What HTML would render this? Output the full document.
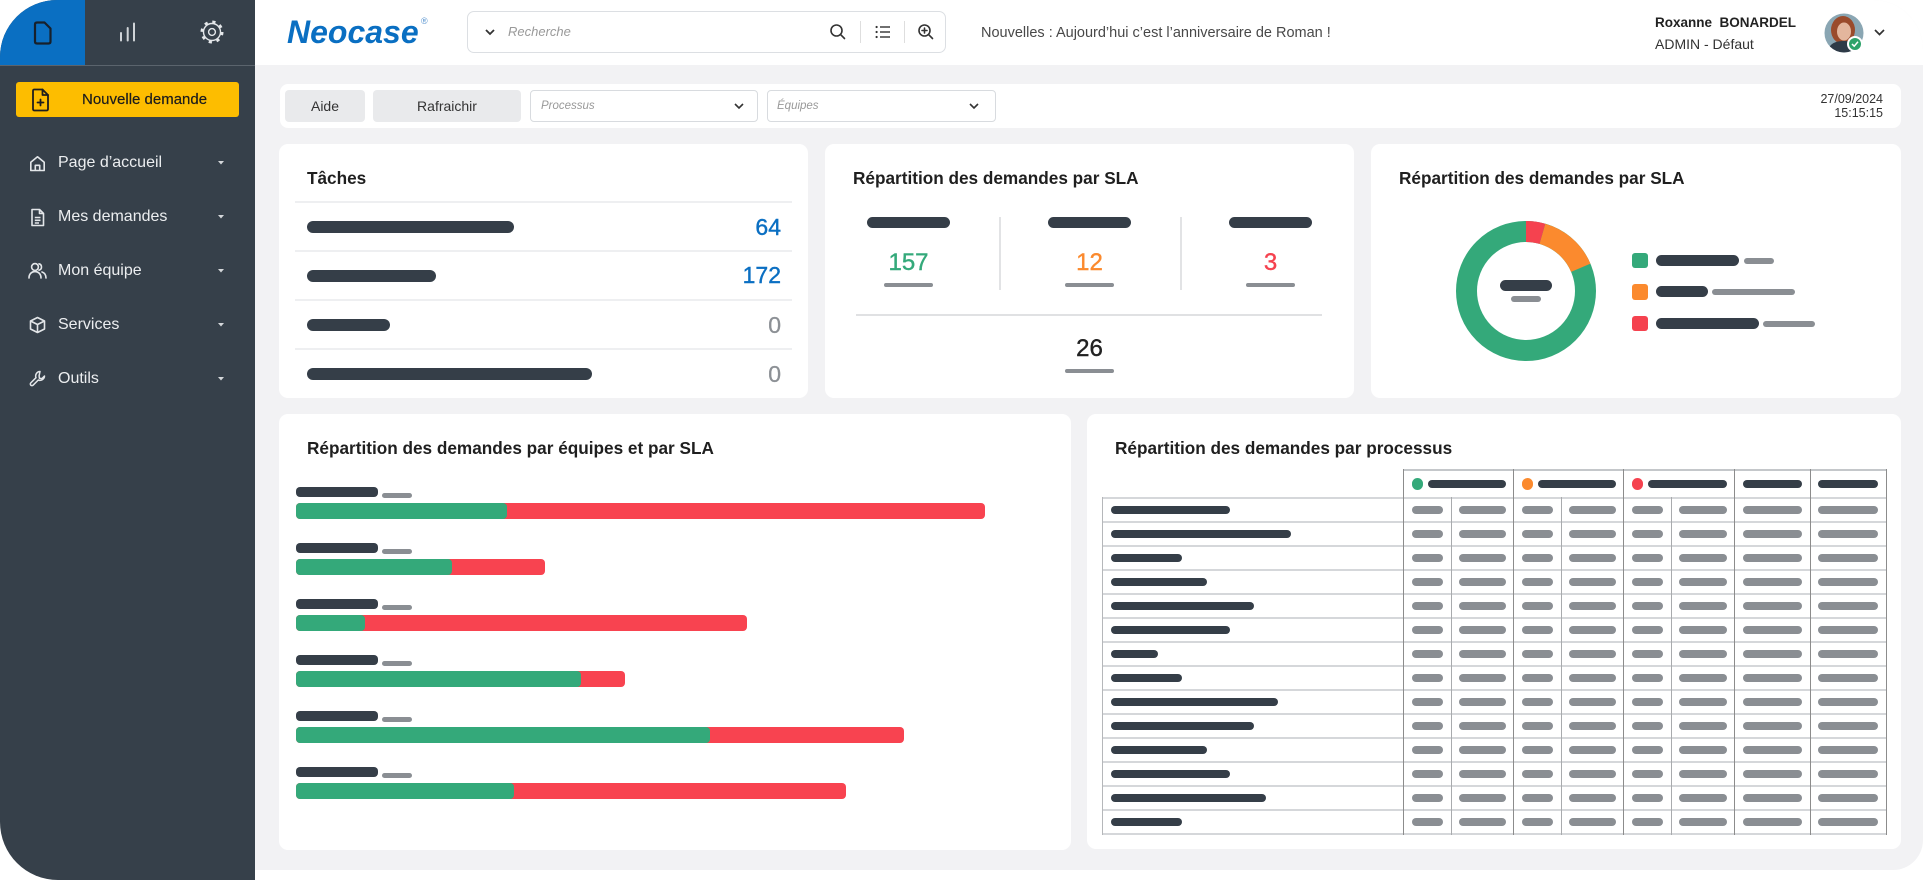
<!DOCTYPE html>
<html><head><meta charset="utf-8">
<style>
*{margin:0;padding:0;box-sizing:border-box}
html,body{width:1925px;height:880px;overflow:hidden;background:#fff;font-family:"Liberation Sans",Arial,sans-serif}
.a{position:absolute}
.t{position:absolute;white-space:nowrap;line-height:20px}
.card{position:absolute;background:#fff;border-radius:9px}
.db{position:absolute;background:#353e48;border-radius:6px}
.gb{position:absolute;background:#8a8e93;border-radius:3px}
.ttl{position:absolute;white-space:nowrap;line-height:20px;font-size:17.2px;font-weight:bold;color:#1f1f1f}
.mi{position:absolute;left:58px;white-space:nowrap;line-height:20px;font-size:16px;color:#eceef0}
.r{position:absolute;left:0;width:1925px;height:24px}
.r i{position:absolute;top:8px;height:8px;border-radius:4px;background:#8a8e93}
.r i.l{left:1110.7px;background:#353e48}
.c1{left:1412px;width:31px}.c2{left:1459px;width:47px}.c3{left:1522px;width:31px}.c4{left:1569px;width:47px}
.c5{left:1632px;width:31px}.c6{left:1679px;width:48px}.c7{left:1743px;width:59px}.c8{left:1818px;width:60px}
.vl{position:absolute;width:1px;background:#8c8c8c}
.hb{position:absolute;height:16px;border-radius:4px}
</style></head><body>

<!-- Sidebar -->
<div class="a" style="left:0;top:0;width:255px;height:880px;background:#36404a;border-radius:57px 0 0 58px;overflow:hidden">
  <div class="a" style="left:0;top:0;width:85px;height:65px;background:#0a6fc2"></div>
  <div class="a" style="left:0;top:65px;width:255px;height:1px;background:#5b646d"></div>
</div>
<!-- tab icons -->
<svg class="a" style="left:33px;top:21px" width="20" height="24" viewBox="0 0 20 24"><path d="M4 1.5 H11.5 L17.5 7.5 V20.5 Q17.5 22.5 15.5 22.5 H4 Q2 22.5 2 20.5 V3.5 Q2 1.5 4 1.5 Z" fill="none" stroke="#17202b" stroke-width="2.2" stroke-linejoin="round"/></svg>
<svg class="a" style="left:119px;top:22px" width="18" height="20" viewBox="0 0 18 20"><g stroke="#d0d4d8" stroke-width="2" stroke-linecap="round"><line x1="2" y1="11" x2="2" y2="18.5"/><line x1="8.7" y1="6" x2="8.7" y2="18.5"/><line x1="15" y1="1.5" x2="15" y2="18.5"/></g></svg>
<svg class="a" style="left:199px;top:19px" width="26" height="26" viewBox="0 0 26 26"><g fill="none" stroke="#e4e7ea"><circle cx="13" cy="13" r="8.5" stroke-width="1.4"/><circle cx="13" cy="13" r="3.4" stroke-width="1.4"/><circle cx="13" cy="13" r="10.2" stroke-width="2.6" stroke-dasharray="3.2 4.81"/></g></svg>

<!-- Nouvelle demande -->
<div class="a" style="left:16px;top:82px;width:223px;height:35px;background:#fdbd00;border-radius:3px"></div>
<svg class="a" style="left:31px;top:88px" width="19" height="24" viewBox="0 0 19 24"><g fill="none" stroke="#1e1e1e" stroke-width="1.8" stroke-linejoin="round" stroke-linecap="round"><path d="M3 1.5 H11.5 L17 7 V21 Q17 22.5 15.5 22.5 H3.5 Q2 22.5 2 21 V3 Q2 1.5 3 1.5 Z"/><path d="M11.5 1.5 V7 H17"/><path d="M9.5 11.5 V17.5 M6.5 14.5 H12.5"/></g></svg>
<div class="t" style="left:82px;top:90px;font-size:15px;color:#1c1c1c;-webkit-text-stroke:0.2px #1c1c1c">Nouvelle demande</div>

<!-- Menu -->
<svg class="a" style="left:28.5px;top:154.5px" width="17" height="17" viewBox="0 0 17 17"><g fill="none" stroke="#e3e6e9" stroke-width="1.6" stroke-linejoin="round"><path d="M1.8 7.3 L8.5 1.8 L15.2 7.3 V15.5 H1.8 Z"/><path d="M6.3 15.5 V10.3 H10.7 V15.5"/></g></svg>
<div class="mi" style="top:152.7px">Page d’accueil</div>
<svg class="a" style="left:29.5px;top:207.5px" width="15" height="19" viewBox="0 0 15 19"><g fill="none" stroke="#e3e6e9" stroke-width="1.6" stroke-linejoin="round"><path d="M2 1.5 H9.5 L13.5 5.5 V17.5 H2 Z"/><path d="M9.5 1.5 V5.5 H13.5"/><path d="M4.8 9.5 H10.5 M4.8 12.3 H10.5 M4.8 15 H9"/></g></svg>
<div class="mi" style="top:206.7px">Mes demandes</div>
<svg class="a" style="left:28px;top:262px" width="19" height="17" viewBox="0 0 19 17"><g fill="none" stroke="#e3e6e9" stroke-width="1.6" stroke-linecap="round"><circle cx="7" cy="5" r="3.4"/><path d="M1 16 C1 11.5 4 9.6 7 9.6 C10 9.6 13 11.5 13 16"/><path d="M11 1.8 A3.3 3.3 0 0 1 11 8.2"/><path d="M14 10 C16.5 10.8 18 12.8 18 16"/></g></svg>
<div class="mi" style="top:260.7px">Mon équipe</div>
<svg class="a" style="left:28.5px;top:316px" width="17" height="18" viewBox="0 0 17 18"><g fill="none" stroke="#e3e6e9" stroke-width="1.6" stroke-linejoin="round"><path d="M8.5 1.5 L15.5 5 V13 L8.5 16.5 L1.5 13 V5 Z"/><path d="M1.5 5 L8.5 8.5 L15.5 5 M8.5 8.5 V16.5"/></g></svg>
<div class="mi" style="top:314.7px">Services</div>
<svg class="a" style="left:28.5px;top:370px" width="17" height="17" viewBox="0 0 17 17"><path d="M11 1.5 A4.5 4.5 0 0 0 7 7.7 L1.8 12.9 A1.6 1.6 0 0 0 4.1 15.2 L9.3 10 A4.5 4.5 0 0 0 15.5 6 L12.9 8.6 L10.4 8.3 L10.1 5.8 Z" fill="none" stroke="#e3e6e9" stroke-width="1.5" stroke-linejoin="round"/></svg>
<div class="mi" style="top:368.7px">Outils</div>
<svg class="a" style="left:217.7px;top:161px" width="6" height="4"><polygon points="0,0 6,0 3,3.5" fill="#d5d8db"/></svg>
<svg class="a" style="left:217.7px;top:215px" width="6" height="4"><polygon points="0,0 6,0 3,3.5" fill="#d5d8db"/></svg>
<svg class="a" style="left:217.7px;top:269px" width="6" height="4"><polygon points="0,0 6,0 3,3.5" fill="#d5d8db"/></svg>
<svg class="a" style="left:217.7px;top:323px" width="6" height="4"><polygon points="0,0 6,0 3,3.5" fill="#d5d8db"/></svg>
<svg class="a" style="left:217.7px;top:377px" width="6" height="4"><polygon points="0,0 6,0 3,3.5" fill="#d5d8db"/></svg>

<!-- Main area -->
<div class="a" style="left:255px;top:0;width:1668px;height:870px;background:#f2f2f4;border-radius:0 50px 30px 0;overflow:hidden">
  <div class="a" style="left:0;top:0;width:1668px;height:65px;background:#fff"></div>
</div>

<!-- Header -->
<div class="a" style="left:287px;top:15.5px;line-height:32px;font-size:32px;font-weight:bold;font-style:italic;color:#0a6fc2;white-space:nowrap">Neocase</div>
<div class="a" style="left:421px;top:16px;line-height:10px;font-size:9px;color:#5a95d0">®</div>

<div class="a" style="left:467px;top:11px;width:479px;height:42px;border:1px solid #dcdfe3;border-radius:7px;background:#fff"></div>
<svg class="a" style="left:485px;top:29px" width="10" height="7"><path d="M1 1 L5 5 L9 1" fill="none" stroke="#333" stroke-width="1.8"/></svg>
<div class="t" style="left:508px;top:22px;font-size:13px;font-style:italic;color:#9a9a9a">Recherche</div>
<svg class="a" style="left:829px;top:23px" width="18" height="18"><g fill="none" stroke="#333" stroke-width="1.6" stroke-linecap="round"><circle cx="7.5" cy="7.5" r="5.5"/><line x1="11.6" y1="11.6" x2="15.5" y2="15.5"/></g></svg>
<div class="a" style="left:860px;top:21px;width:1px;height:22px;background:#dedede"></div>
<svg class="a" style="left:875px;top:25px" width="16" height="14"><g fill="#333"><circle cx="1.6" cy="2" r="1.1"/><circle cx="1.6" cy="7" r="1.1"/><circle cx="1.6" cy="12" r="1.1"/></g><g stroke="#333" stroke-width="1.4"><line x1="5" y1="2" x2="15" y2="2"/><line x1="5" y1="7" x2="15" y2="7"/><line x1="5" y1="12" x2="15" y2="12"/></g></svg>
<div class="a" style="left:904px;top:21px;width:1px;height:22px;background:#dedede"></div>
<svg class="a" style="left:917px;top:23px" width="18" height="18"><g fill="none" stroke="#333" stroke-width="1.6" stroke-linecap="round"><circle cx="7.5" cy="7.5" r="5.5"/><line x1="11.6" y1="11.6" x2="15.5" y2="15.5"/><line x1="7.5" y1="5" x2="7.5" y2="10"/><line x1="5" y1="7.5" x2="10" y2="7.5"/></g></svg>

<div class="t" style="left:981px;top:23px;font-size:14.5px;color:#484848">Nouvelles : Aujourd’hui c’est l’anniversaire de Roman !</div>

<div class="t" style="left:1655px;top:12.5px;font-size:13.5px;font-weight:bold;color:#222">Roxanne&nbsp; BONARDEL</div>
<div class="t" style="left:1655px;top:34px;font-size:14px;color:#333">ADMIN - Défaut</div>
<svg class="a" style="left:1823.5px;top:13px" width="40" height="40" viewBox="0 0 40 40"><defs><clipPath id="av"><circle cx="20" cy="20" r="19.5"/></clipPath></defs><g clip-path="url(#av)"><rect width="40" height="40" fill="#8aa6b3"/><ellipse cx="19" cy="17" rx="12" ry="14" fill="#9a4b2c"/><ellipse cx="20" cy="18.5" rx="7" ry="9" fill="#e3b69d"/><path d="M3 40 C5 30 12 28 20 28 C28 28 35 30 37 40Z" fill="#2e3a47"/></g></svg>
<div class="a" style="left:1847px;top:36px;width:16px;height:16px;border-radius:50%;background:#2ea36a;border:2px solid #fff"></div>
<svg class="a" style="left:1851px;top:40px" width="8" height="8"><path d="M1 4 L3.2 6.2 L7 1.8" fill="none" stroke="#fff" stroke-width="1.5"/></svg>
<svg class="a" style="left:1874px;top:29px" width="11" height="7"><path d="M1 1 L5.5 5.5 L10 1" fill="none" stroke="#333" stroke-width="1.7"/></svg>

<!-- Toolbar -->
<div class="a" style="left:280px;top:84px;width:1621px;height:44px;background:#fff;border-radius:8px"></div>
<div class="a" style="left:285px;top:90px;width:80px;height:32px;background:#e9eaec;border-radius:4px"></div>
<div class="t" style="left:285px;top:96px;width:80px;text-align:center;font-size:14px;color:#333">Aide</div>
<div class="a" style="left:373px;top:90px;width:148px;height:32px;background:#e9eaec;border-radius:4px"></div>
<div class="t" style="left:373px;top:96px;width:148px;text-align:center;font-size:14px;color:#333">Rafraichir</div>
<div class="a" style="left:530px;top:90px;width:228px;height:32px;border:1px solid #d8dbdf;border-radius:4px"></div>
<div class="t" style="left:541px;top:96px;font-size:11.5px;font-style:italic;color:#999">Processus</div>
<svg class="a" style="left:734px;top:103px" width="10" height="7"><path d="M1 1 L5 5 L9 1" fill="none" stroke="#333" stroke-width="1.6"/></svg>
<div class="a" style="left:767px;top:90px;width:229px;height:32px;border:1px solid #d8dbdf;border-radius:4px"></div>
<div class="t" style="left:777px;top:96px;font-size:11.5px;font-style:italic;color:#999">Équipes</div>
<svg class="a" style="left:968.5px;top:103px" width="10" height="7"><path d="M1 1 L5 5 L9 1" fill="none" stroke="#333" stroke-width="1.6"/></svg>
<div class="t" style="right:42px;top:89px;text-align:right;font-size:12.5px;color:#333">27/09/2024</div>
<div class="t" style="right:42px;top:103px;text-align:right;font-size:12.5px;color:#333">15:15:15</div>

<!-- Card 1: Tâches -->
<div class="card" style="left:279px;top:144px;width:529px;height:254px"></div>
<div class="ttl" style="left:307px;top:167.5px">Tâches</div>
<div class="a" style="left:295px;top:201px;width:497px;height:2px;background:#eeeff1"></div>
<div class="a" style="left:295px;top:250px;width:497px;height:2px;background:#eeeff1"></div>
<div class="a" style="left:295px;top:299px;width:497px;height:2px;background:#eeeff1"></div>
<div class="a" style="left:295px;top:348px;width:497px;height:2px;background:#eeeff1"></div>
<div class="db" style="left:307px;top:220.7px;width:206.5px;height:12px"></div>
<div class="db" style="left:307px;top:269.7px;width:128.6px;height:12px"></div>
<div class="db" style="left:307px;top:318.7px;width:82.5px;height:12px"></div>
<div class="db" style="left:307px;top:367.7px;width:285.4px;height:12px"></div>
<div class="a" style="right:1144px;top:211.7px;line-height:30px;font-size:23px;color:#0b6fc2;-webkit-text-stroke:0.4px #0b6fc2">64</div>
<div class="a" style="right:1144px;top:260.3px;line-height:30px;font-size:23px;color:#0b6fc2;-webkit-text-stroke:0.4px #0b6fc2">172</div>
<div class="a" style="right:1144px;top:309.5px;line-height:30px;font-size:23px;color:#8c9095;-webkit-text-stroke:0.3px #8c9095">0</div>
<div class="a" style="right:1144px;top:358.8px;line-height:30px;font-size:23px;color:#8c9095;-webkit-text-stroke:0.3px #8c9095">0</div>

<!-- Card 2: SLA numbers -->
<div class="card" style="left:825px;top:144px;width:529px;height:254px"></div>
<div class="ttl" style="left:853px;top:168px">Répartition des demandes par SLA</div>
<div class="db" style="left:867px;top:217.2px;width:83px;height:11px"></div>
<div class="db" style="left:1048px;top:217.2px;width:83px;height:11px"></div>
<div class="db" style="left:1229px;top:217.2px;width:83px;height:11px"></div>
<div class="a" style="left:999px;top:217px;width:2px;height:73px;background:#e2e3e5"></div>
<div class="a" style="left:1180px;top:217px;width:2px;height:73px;background:#e2e3e5"></div>
<div class="a" style="left:858.5px;top:247.7px;width:100px;text-align:center;line-height:30px;font-size:24px;color:#34a97a;-webkit-text-stroke:0.4px #34a97a">157</div>
<div class="a" style="left:1039.5px;top:247.7px;width:100px;text-align:center;line-height:30px;font-size:24px;color:#fb8a2e;-webkit-text-stroke:0.4px #fb8a2e">12</div>
<div class="a" style="left:1220.5px;top:247.7px;width:100px;text-align:center;line-height:30px;font-size:24px;color:#f5424f;-webkit-text-stroke:0.4px #f5424f">3</div>
<div class="gb" style="left:884.3px;top:282.5px;width:48.6px;height:4px;border-radius:2px"></div>
<div class="gb" style="left:1065.4px;top:282.5px;width:48.2px;height:4px;border-radius:2px"></div>
<div class="gb" style="left:1246px;top:282.5px;width:48.6px;height:4px;border-radius:2px"></div>
<div class="a" style="left:856px;top:313.5px;width:466px;height:2px;background:#e0e1e3"></div>
<div class="a" style="left:1039.5px;top:334px;width:100px;text-align:center;line-height:30px;font-size:24px;color:#222;-webkit-text-stroke:0.4px #222">26</div>
<div class="gb" style="left:1065.4px;top:368.5px;width:48.2px;height:4px;border-radius:2px"></div>

<!-- Card 3: donut -->
<div class="card" style="left:1371px;top:144px;width:529.5px;height:254px"></div>
<div class="ttl" style="left:1399px;top:168px">Répartition des demandes par SLA</div>
<svg class="a" style="left:1456px;top:221px" width="140" height="140" viewBox="0 0 140 140">
<g fill="none" stroke-width="21">
<circle cx="70" cy="70" r="59.5" stroke="#34a97a"/>
<circle cx="70" cy="70" r="59.5" stroke="#fb8a2e" stroke-dasharray="52.96 400" transform="rotate(-74 70 70)"/>
<circle cx="70" cy="70" r="59.5" stroke="#f5424f" stroke-dasharray="16.6 400" transform="rotate(-90 70 70)"/>
</g></svg>
<div class="db" style="left:1499.5px;top:280.2px;width:52.5px;height:11px"></div>
<div class="gb" style="left:1510.6px;top:295.7px;width:30.3px;height:6px"></div>
<div class="a" style="left:1632.4px;top:252.5px;width:15.2px;height:15.5px;background:#34a97a;border-radius:3px"></div>
<div class="db" style="left:1656.2px;top:254.5px;width:82.5px;height:11px"></div>
<div class="gb" style="left:1743.8px;top:257.5px;width:29.9px;height:6px"></div>
<div class="a" style="left:1632.4px;top:284px;width:15.2px;height:15.5px;background:#fb8a2e;border-radius:3px"></div>
<div class="db" style="left:1656.2px;top:286.2px;width:51.5px;height:11px"></div>
<div class="gb" style="left:1712.4px;top:289.2px;width:82.2px;height:6px"></div>
<div class="a" style="left:1632.4px;top:315.5px;width:15.2px;height:15.5px;background:#f5424f;border-radius:3px"></div>
<div class="db" style="left:1656.2px;top:317.8px;width:102.7px;height:11px"></div>
<div class="gb" style="left:1763.2px;top:320.8px;width:51.6px;height:6px"></div>

<!-- Card 4: bars -->
<div class="card" style="left:279px;top:414px;width:791.5px;height:435.5px"></div>
<div class="ttl" style="left:307px;top:437.7px">Répartition des demandes par équipes et par SLA</div>

<div class="db" style="left:295.5px;top:487px;width:82.2px;height:10px;border-radius:4px"></div>
<div class="gb" style="left:382.2px;top:492.5px;width:30px;height:5px"></div>
<div class="hb" style="left:295.5px;top:503px;width:689px;background:#f84350"></div>
<div class="hb" style="left:295.5px;top:503px;width:211.5px;background:#34a97a"></div>

<div class="db" style="left:295.5px;top:543px;width:82.2px;height:10px;border-radius:4px"></div>
<div class="gb" style="left:382.2px;top:548.5px;width:30px;height:5px"></div>
<div class="hb" style="left:295.5px;top:559px;width:249.8px;background:#f84350"></div>
<div class="hb" style="left:295.5px;top:559px;width:156.2px;background:#34a97a"></div>

<div class="db" style="left:295.5px;top:599px;width:82.2px;height:10px;border-radius:4px"></div>
<div class="gb" style="left:382.2px;top:604.5px;width:30px;height:5px"></div>
<div class="hb" style="left:295.5px;top:615px;width:451px;background:#f84350"></div>
<div class="hb" style="left:295.5px;top:615px;width:69.3px;background:#34a97a"></div>

<div class="db" style="left:295.5px;top:655px;width:82.2px;height:10px;border-radius:4px"></div>
<div class="gb" style="left:382.2px;top:660.5px;width:30px;height:5px"></div>
<div class="hb" style="left:295.5px;top:671px;width:329.2px;background:#f84350"></div>
<div class="hb" style="left:295.5px;top:671px;width:285px;background:#34a97a"></div>

<div class="db" style="left:295.5px;top:711px;width:82.2px;height:10px;border-radius:4px"></div>
<div class="gb" style="left:382.2px;top:716.5px;width:30px;height:5px"></div>
<div class="hb" style="left:295.5px;top:727px;width:608.1px;background:#f84350"></div>
<div class="hb" style="left:295.5px;top:727px;width:414.3px;background:#34a97a"></div>

<div class="db" style="left:295.5px;top:767px;width:82.2px;height:10px;border-radius:4px"></div>
<div class="gb" style="left:382.2px;top:772.5px;width:30px;height:5px"></div>
<div class="hb" style="left:295.5px;top:783px;width:550.2px;background:#f84350"></div>
<div class="hb" style="left:295.5px;top:783px;width:218.6px;background:#34a97a"></div>

<!-- Card 5: table -->
<div class="card" style="left:1086.5px;top:414px;width:814px;height:435px"></div>
<div class="ttl" style="left:1115px;top:438px">Répartition des demandes par processus</div>

<div class="a" style="left:1403px;top:469px;width:483px;height:2px;background:#c4c7ca"></div>
<div class="a" style="left:1101.5px;top:497px;width:785px;height:339px;background:repeating-linear-gradient(to bottom,#d5d7da 0,#d5d7da 2px,transparent 2px,transparent 24px)"></div>
<div class="vl" style="left:1101.5px;top:497px;height:338px;background:#b5b7ba"></div>
<div class="vl" style="left:1403px;top:469px;height:366px"></div>
<div class="vl" style="left:1451px;top:497px;height:338px;background:#a9abae"></div>
<div class="vl" style="left:1513px;top:469px;height:366px"></div>
<div class="vl" style="left:1561px;top:497px;height:338px;background:#a9abae"></div>
<div class="vl" style="left:1623px;top:469px;height:366px"></div>
<div class="vl" style="left:1671px;top:497px;height:338px;background:#a9abae"></div>
<div class="vl" style="left:1734px;top:469px;height:366px"></div>
<div class="vl" style="left:1810px;top:469px;height:366px"></div>
<div class="vl" style="left:1886px;top:469px;height:366px"></div>

<!-- header row -->
<div class="a" style="left:1412px;top:478px;width:11px;height:12px;border-radius:5.5px;background:#34a97a"></div>
<div class="db" style="left:1427.6px;top:480px;width:78.1px;height:8px;border-radius:4px"></div>
<div class="a" style="left:1522px;top:478px;width:11px;height:12px;border-radius:5.5px;background:#fb8a2e"></div>
<div class="db" style="left:1537.5px;top:480px;width:78.7px;height:8px;border-radius:4px"></div>
<div class="a" style="left:1632px;top:478px;width:11px;height:12px;border-radius:5.5px;background:#f5424f"></div>
<div class="db" style="left:1647.5px;top:480px;width:79.7px;height:8px;border-radius:4px"></div>
<div class="db" style="left:1743px;top:480px;width:59px;height:8px;border-radius:4px"></div>
<div class="db" style="left:1818px;top:480px;width:60px;height:8px;border-radius:4px"></div>

<div class="r" style="top:498px"><i class="l" style="width:119.1px"></i><i class="c1"></i><i class="c2"></i><i class="c3"></i><i class="c4"></i><i class="c5"></i><i class="c6"></i><i class="c7"></i><i class="c8"></i></div>
<div class="r" style="top:522px"><i class="l" style="width:180px"></i><i class="c1"></i><i class="c2"></i><i class="c3"></i><i class="c4"></i><i class="c5"></i><i class="c6"></i><i class="c7"></i><i class="c8"></i></div>
<div class="r" style="top:546px"><i class="l" style="width:71.2px"></i><i class="c1"></i><i class="c2"></i><i class="c3"></i><i class="c4"></i><i class="c5"></i><i class="c6"></i><i class="c7"></i><i class="c8"></i></div>
<div class="r" style="top:570px"><i class="l" style="width:95.9px"></i><i class="c1"></i><i class="c2"></i><i class="c3"></i><i class="c4"></i><i class="c5"></i><i class="c6"></i><i class="c7"></i><i class="c8"></i></div>
<div class="r" style="top:594px"><i class="l" style="width:143.3px"></i><i class="c1"></i><i class="c2"></i><i class="c3"></i><i class="c4"></i><i class="c5"></i><i class="c6"></i><i class="c7"></i><i class="c8"></i></div>
<div class="r" style="top:618px"><i class="l" style="width:119.1px"></i><i class="c1"></i><i class="c2"></i><i class="c3"></i><i class="c4"></i><i class="c5"></i><i class="c6"></i><i class="c7"></i><i class="c8"></i></div>
<div class="r" style="top:642px"><i class="l" style="width:47.3px"></i><i class="c1"></i><i class="c2"></i><i class="c3"></i><i class="c4"></i><i class="c5"></i><i class="c6"></i><i class="c7"></i><i class="c8"></i></div>
<div class="r" style="top:666px"><i class="l" style="width:71.2px"></i><i class="c1"></i><i class="c2"></i><i class="c3"></i><i class="c4"></i><i class="c5"></i><i class="c6"></i><i class="c7"></i><i class="c8"></i></div>
<div class="r" style="top:690px"><i class="l" style="width:167.1px"></i><i class="c1"></i><i class="c2"></i><i class="c3"></i><i class="c4"></i><i class="c5"></i><i class="c6"></i><i class="c7"></i><i class="c8"></i></div>
<div class="r" style="top:714px"><i class="l" style="width:143.3px"></i><i class="c1"></i><i class="c2"></i><i class="c3"></i><i class="c4"></i><i class="c5"></i><i class="c6"></i><i class="c7"></i><i class="c8"></i></div>
<div class="r" style="top:738px"><i class="l" style="width:95.9px"></i><i class="c1"></i><i class="c2"></i><i class="c3"></i><i class="c4"></i><i class="c5"></i><i class="c6"></i><i class="c7"></i><i class="c8"></i></div>
<div class="r" style="top:762px"><i class="l" style="width:119.1px"></i><i class="c1"></i><i class="c2"></i><i class="c3"></i><i class="c4"></i><i class="c5"></i><i class="c6"></i><i class="c7"></i><i class="c8"></i></div>
<div class="r" style="top:786px"><i class="l" style="width:155.3px"></i><i class="c1"></i><i class="c2"></i><i class="c3"></i><i class="c4"></i><i class="c5"></i><i class="c6"></i><i class="c7"></i><i class="c8"></i></div>
<div class="r" style="top:810px"><i class="l" style="width:71.2px"></i><i class="c1"></i><i class="c2"></i><i class="c3"></i><i class="c4"></i><i class="c5"></i><i class="c6"></i><i class="c7"></i><i class="c8"></i></div>

</body></html>
